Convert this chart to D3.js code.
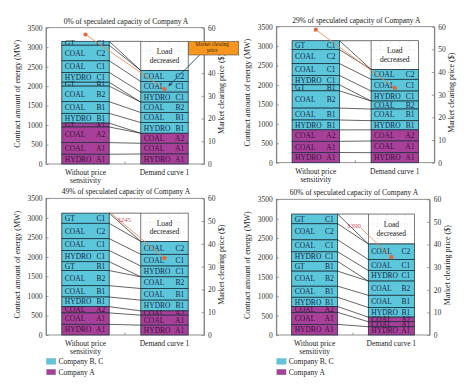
<!DOCTYPE html>
<html><head><meta charset="utf-8">
<script src="https://cdn.jsdelivr.net/npm/d3@7"></script>
<style>
body{margin:0;background:#fff}
svg{display:block}
text{font-family:"Liberation Serif","DejaVu Serif",serif}
</style>
</head><body>
<svg id="c" width="474" height="392"></svg>
<script>
// ---------------- data ----------------
const categories = ["Without price sensitivity", "Demand curve 1"];
const categoryLines = [["Without price", "sensitivity"], ["Demand curve 1"]];
const panelTitles = [
  "0% of speculated capacity of Company A",
  "29% of speculated capacity of Company A",
  "49% of speculated capacity of Company A",
  "60% of speculated capacity of Company A"
];
const unitNames = ["HYDRO A1","COAL A1","COAL A2","GT A1","HYDRO B1","COAL B1","COAL B2","GT B1","HYDRO C1","COAL C1","COAL C2","GT C1"];
const unitCompany = ["A","A","A","A","B","B","B","B","C","C","C","C"];
// contract amount of energy (MW) per unit, without price sensitivity
const withoutMW0  = [250,300,400,100,250,300,400,100,250,300,400,100];
const withoutMW29 = [262,288,295,0,254,306,445,155,240,305,360,230];
const withoutMW49 = [273,292,160,0,248,289,388,227,286,303,393,261];
const withoutMW60 = [273,311,149,0,240,285,389,251,248,308,416,250];
// contract amount of energy (MW) per unit, demand curve 1
const demandMW0  = [257,275,257,0,275,257,267,0,257,273,282,0];
const demandMW29 = [258,300,287,0,236,300,206,0,257,301,255,0];
const demandMW49 = [252,256,109,0,275,298,299,0,277,299,330,0];
const demandMW60 = [213,129,119,0,247,316,367,0,273,282,402,0];
// market clearing price ($)
const priceWithout = [57, 58.7, 245, 390];
const priceDemand  = [33, 33, 33.7, 34.4];
const mwTicks = [0,500,1000,1500,2000,2500,3000,3500];
const priceTicks = [0,10,20,30,40,50,60];
const legendLabels = ["Company B, C", "Company A"];
const loadLabel = ["Load", "decreased"];
const calloutLabel = ["Market clearing", "price"];
const yLabelLeft = "Contract amount of energy (MW)";
const yLabelRight = "Market clearing price ($)";

const withoutSets = [withoutMW0, withoutMW29, withoutMW49, withoutMW60];
const demandSets = [demandMW0, demandMW29, demandMW49, demandMW60];

// ---------------- layout / style ----------------
const panels = [
  {x0:46,    x1:204,   yTop:27.7,  yBot:164},
  {x0:276.3, x1:434.3, yTop:26.7,  yBot:162.7},
  {x0:46,    x1:204,   yTop:198.3, yBot:335},
  {x0:276.3, x1:429.7, yTop:199.3, yBot:335}
];
const offScale = [null, null, {ldx:15, ldy:21, from:"bar"}, {ldx:16.5, ldy:26.5, from:"label"}];
const showLegend = [false, false, true, true];
const COLOR_BC = "#5cc6da", COLOR_A = "#a8409a";
const FS = 7.5;

const svg = d3.select("#c");

panels.forEach((P, p) => {
  const g = svg.append("g");
  const yMW = d3.scaleLinear().domain([0, 3500]).range([P.yBot, P.yTop]);
  const yPr = d3.scaleLinear().domain([0, 60]).range([P.yBot, P.yTop]);
  const x = d3.scaleBand().domain(categories).range([P.x0, P.x1]).paddingInner(0.4).paddingOuter(0.2);
  const bw = x.bandwidth();

  // frame
  g.append("rect").attr("x", P.x0).attr("y", P.yTop).attr("width", P.x1 - P.x0).attr("height", P.yBot - P.yTop)
    .attr("fill", "none").attr("stroke", "#777").attr("stroke-width", 0.8);

  // axes
  const axL = g.append("g").attr("transform", `translate(${P.x0},0)`)
    .call(d3.axisLeft(yMW).tickValues(mwTicks).tickFormat(d3.format("d"))
      .tickSizeInner(-2.5).tickSizeOuter(0).tickPadding(3.5));
  // in the first panel the "50" label lies under the callout box
  const prFmt = d => (p === 0 && d === 50) ? "" : d3.format("d")(d);
  const axR = g.append("g").attr("transform", `translate(${P.x1},0)`)
    .call(d3.axisRight(yPr).tickValues(priceTicks).tickFormat(prFmt)
      .tickSizeInner(-2.5).tickSizeOuter(0).tickPadding(4));
  [axL, axR].forEach(a => {
    a.select(".domain").attr("stroke", "#777").attr("stroke-width", 0.8);
    a.selectAll(".tick line").attr("stroke", "#777").attr("stroke-width", 0.7);
    a.selectAll(".tick text").attr("font-size", FS).attr("fill", "#333")
      .attr("font-family", '"Liberation Serif","DejaVu Serif",serif');
  });
  // small x-axis tick between categories
  const xm = (P.x0 + P.x1) / 2;
  g.append("line").attr("x1", xm).attr("x2", xm).attr("y1", P.yBot).attr("y2", P.yBot - 2.5)
    .attr("stroke", "#777").attr("stroke-width", 0.7);

  // category labels
  categories.forEach((c, ci) => {
    categoryLines[ci].forEach((ln, li) => {
      g.append("text").attr("x", x(c) + bw / 2).attr("y", P.yBot + 11 + li * 8.3)
        .attr("text-anchor", "middle").attr("font-size", FS).attr("fill", "#222").text(ln);
    });
  });

  // title
  g.append("text").attr("x", xm + 1).attr("y", P.yTop - 4).attr("text-anchor", "middle")
    .attr("font-size", FS).attr("fill", "#222").text(panelTitles[p]);

  // axis labels
  const ym = (P.yTop + P.yBot) / 2 - 2;
  g.append("text").attr("transform", `translate(${P.x0 - 26},${ym}) rotate(-90)`)
    .attr("text-anchor", "middle").attr("font-size", 8).attr("fill", "#222").text(yLabelLeft);
  g.append("text").attr("transform", `translate(${P.x1 + 20},${ym}) rotate(-90)`)
    .attr("text-anchor", "middle").attr("font-size", 8).attr("fill", "#222").text(yLabelRight);

  const L = withoutSets[p], R = demandSets[p];
  const cumL = d3.cumsum(L), cumR = d3.cumsum(R);
  const totL = cumL[cumL.length - 1], totR = cumR[cumR.length - 1];
  const xL = x(categories[0]), xR = x(categories[1]);

  // connector lines
  L.forEach((v, i) => {
    if (v <= 0) return;
    g.append("line").attr("x1", xL + bw).attr("y1", yMW(cumL[i]))
      .attr("x2", xR).attr("y2", yMW(cumR[i]))
      .attr("stroke", "#222").attr("stroke-width", 0.7);
  });
  g.append("line").attr("x1", xL + bw).attr("y1", yMW(totL)).attr("x2", xR).attr("y2", yMW(totL))
    .attr("stroke", "#333").attr("stroke-width", 0.7);

  // load decreased box
  const by0 = yMW(totL), by1 = yMW(totR);
  g.append("rect").attr("x", xR).attr("y", by0).attr("width", bw).attr("height", by1 - by0)
    .attr("fill", "#fff").attr("stroke", "#444").attr("stroke-width", 0.7);
  [1/3, 2/3].forEach(f => {
    g.append("line").attr("x1", xR + 1).attr("x2", xR + bw - 1)
      .attr("y1", by0 + (by1 - by0) * f).attr("y2", by0 + (by1 - by0) * f)
      .attr("stroke", "#bbb").attr("stroke-width", 0.6).attr("stroke-dasharray", "0.8,3");
  });
  [0.2, 0.4, 0.6, 0.8].forEach(f => {
    g.append("line").attr("x1", xR + bw * f).attr("x2", xR + bw * f)
      .attr("y1", by0 + 1).attr("y2", by1 - 1)
      .attr("stroke", "#bbb").attr("stroke-width", 0.6).attr("stroke-dasharray", "0.8,3");
  });
  const bmid = (by0 + by1) / 2;
  loadLabel.forEach((t, k) => {
    g.append("text").attr("x", xR + bw / 2).attr("y", bmid - 4.2 + k * 8.2).attr("dy", "0.35em")
      .attr("text-anchor", "middle").attr("font-size", FS).attr("fill", "#222").text(t);
  });

  // stacked bars (drawn top to bottom)
  [[L, cumL, xL], [R, cumR, xR]].forEach(([vals, cum, bx]) => {
    for (let i = vals.length - 1; i >= 0; i--) {
      const v = vals[i];
      if (v <= 0) continue;
      const yt = yMW(cum[i]), yb = yMW(cum[i] - v);
      const isA = unitCompany[i] === "A";
      g.append("rect").attr("x", bx).attr("y", yt).attr("width", bw).attr("height", yb - yt)
        .attr("fill", isA ? COLOR_A : COLOR_BC).attr("stroke", "#1e3340").attr("stroke-width", 0.8);
      const parts = unitNames[i].split(" ");
      const tc = isA ? "#3a1236" : "#172a4a";
      const ty = (yt + yb) / 2;
      g.append("text").attr("x", bx + 3).attr("y", ty).attr("dy", "0.35em")
        .attr("font-size", FS).attr("fill", tc).text(parts[0]);
      g.append("text").attr("x", bx + bw - 4).attr("y", ty).attr("dy", "0.35em")
        .attr("text-anchor", "end").attr("font-size", FS).attr("fill", tc).text(parts[1]);
    }
  });

  // market clearing price
  const c0 = xL + bw / 2, c1 = xR + bw / 2;
  const pw = priceWithout[p], pd = priceDemand[p];
  const lineCol = "#e58a4e";
  if (pw <= 60) {
    g.append("line").attr("x1", c0).attr("y1", yPr(pw)).attr("x2", c1).attr("y2", yPr(pd))
      .attr("stroke", lineCol).attr("stroke-width", 0.9).attr("opacity", 0.9);
    g.append("circle").attr("cx", c0).attr("cy", yPr(pw)).attr("r", 2.1).attr("fill", "#e4683a");
  } else {
    const o = offScale[p];
    const lx = xL + bw + o.ldx, ly = P.yTop + o.ldy;
    let sx, sy;
    if (o.from === "bar") { sx = xL + bw + 1.5; sy = yMW(totL); }
    else { sx = lx + 7; sy = ly + 2.5; }
    g.append("line").attr("x1", sx).attr("y1", sy).attr("x2", c1).attr("y2", yPr(pd))
      .attr("stroke", lineCol).attr("stroke-width", 0.9).attr("opacity", 0.9);
    g.append("text").attr("x", lx).attr("y", ly).attr("dy", "0.35em").attr("text-anchor", "middle")
      .attr("font-size", 6.8).attr("fill", "#d2506a").text("$" + pw);
  }
  g.append("circle").attr("cx", c1).attr("cy", yPr(pd)).attr("r", 2.1).attr("fill", "#e4683a");

  // callout (first panel)
  if (p === 0) {
    const bxx = P.x1 - 15.3, byy = P.yTop + 13.6, bwid = 50, bht = 13.7;
    const tipX = c1 + 4, tipY = yPr(pd) - 3;
    const sx = bxx + 11, sy = byy + bht;
    const ang = Math.atan2(tipY - sy, tipX - sx);
    g.append("line").attr("x1", sx).attr("y1", sy).attr("x2", tipX).attr("y2", tipY)
      .attr("stroke", "#1f4a66").attr("stroke-width", 0.9);
    const ah = 3.5, aw = 1.8;
    const pts = [[tipX, tipY],
      [tipX - ah * Math.cos(ang) + aw * Math.sin(ang), tipY - ah * Math.sin(ang) - aw * Math.cos(ang)],
      [tipX - ah * Math.cos(ang) - aw * Math.sin(ang), tipY - ah * Math.sin(ang) + aw * Math.cos(ang)]];
    g.append("polygon").attr("points", pts.map(d => d.join(",")).join(" ")).attr("fill", "#1f4a66");
    g.append("rect").attr("x", bxx).attr("y", byy).attr("width", bwid).attr("height", bht)
      .attr("fill", "#f7961e").attr("stroke", "#555").attr("stroke-width", 0.6);
    calloutLabel.forEach((t, k) => {
      g.append("text").attr("x", bxx + bwid / 2 - 1.5).attr("y", byy + 4.2 + k * 6.2)
        .attr("text-anchor", "middle").attr("font-size", 5.3).attr("fill", "#3a2a10").text(t);
    });
  }

  // legend
  if (showLegend[p]) {
    [COLOR_BC, COLOR_A].forEach((col, k) => {
      const ly = P.yBot + 23.5 + k * 10.7;
      g.append("rect").attr("x", P.x0 + 0.5).attr("y", ly).attr("width", 9.3).attr("height", 5.7)
        .attr("fill", col).attr("stroke", "#8aa").attr("stroke-width", 0.4);
      g.append("text").attr("x", P.x0 + 12.5).attr("y", ly + 2.9).attr("dy", "0.35em")
        .attr("font-size", FS).attr("fill", "#222").text(legendLabels[k]);
    });
  }
});
</script>
</body></html>
